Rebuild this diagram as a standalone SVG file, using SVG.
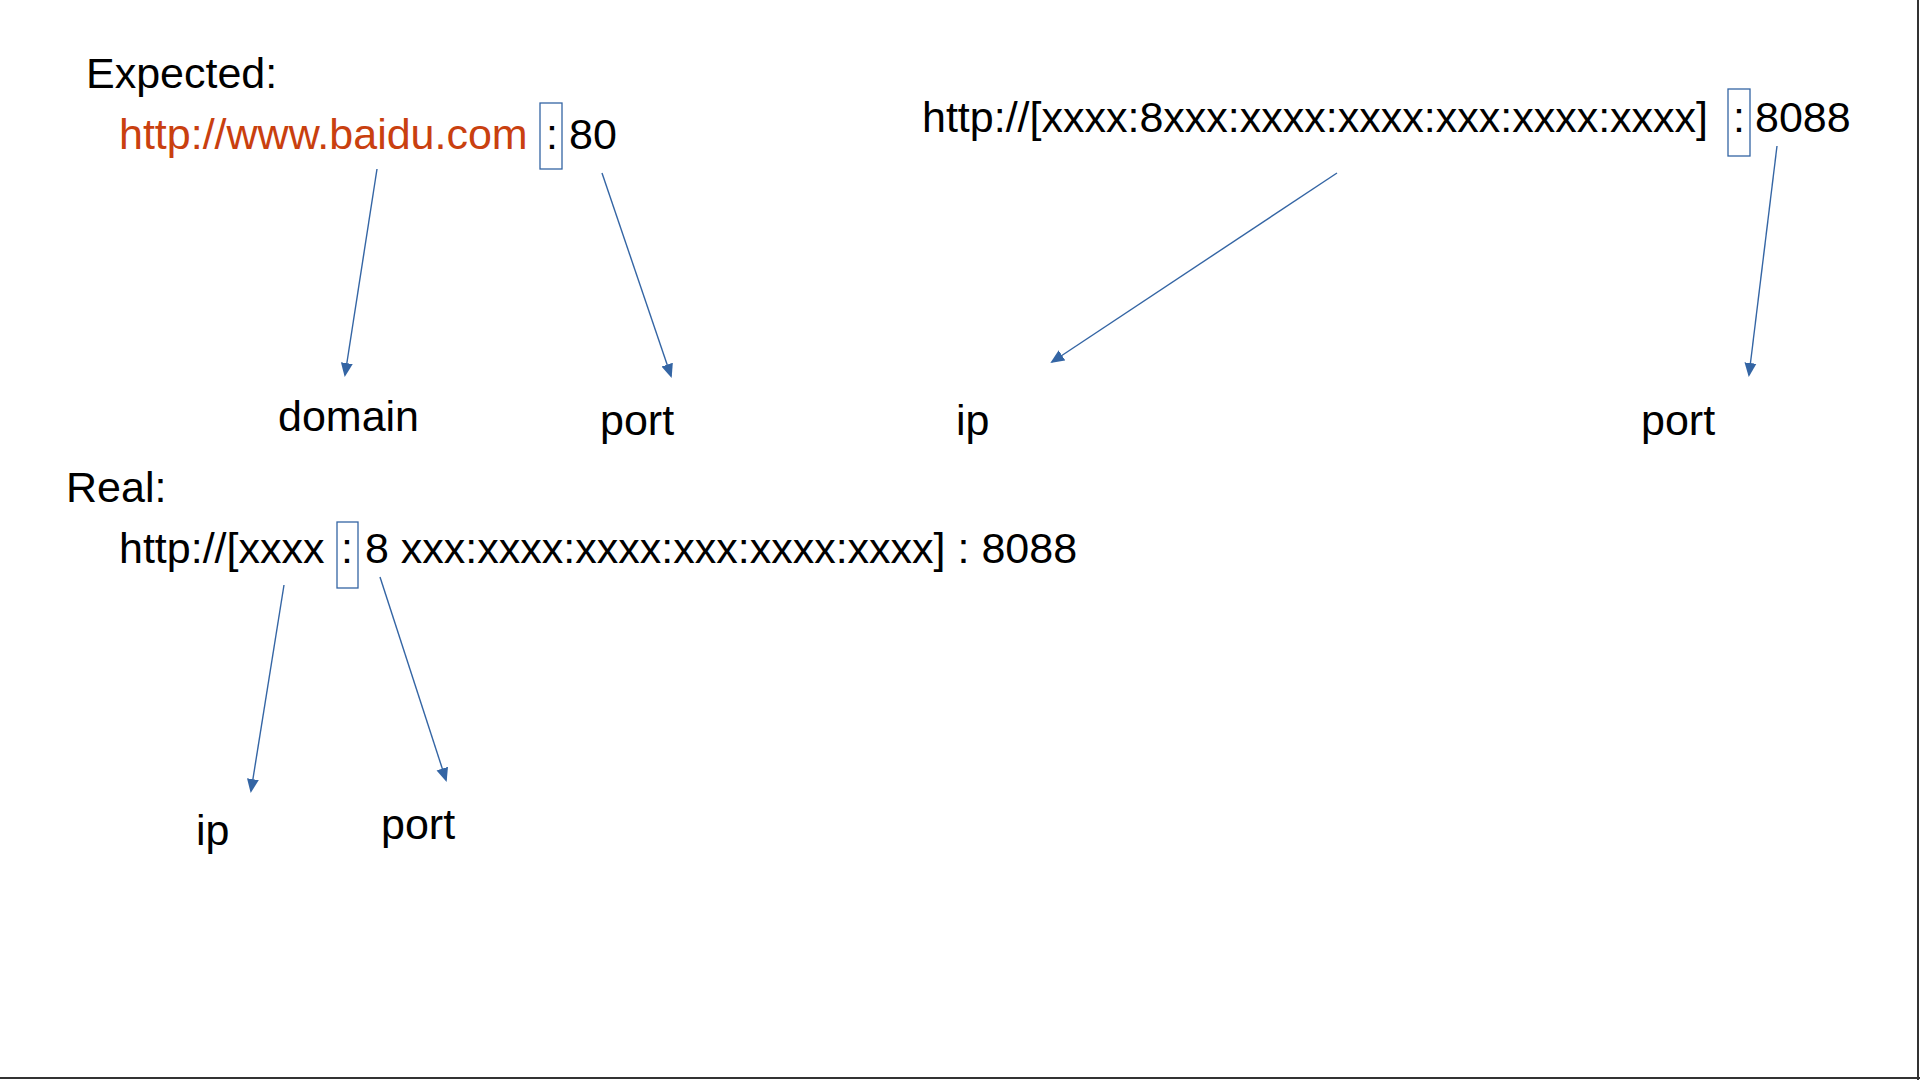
<svg xmlns="http://www.w3.org/2000/svg" width="1920" height="1080" viewBox="0 0 1920 1080">
<style>
text{font-family:"Liberation Sans",Arial,sans-serif;font-size:43px;fill:#000}
.red{fill:#c9400f}
.box{fill:none;stroke:#3465a4;stroke-width:1.3}
.c line{stroke:#3465a4;stroke-width:1.4;marker-end:url(#ah)}
</style>
<defs><marker id="ah" markerWidth="14" markerHeight="14" refX="12" refY="6" orient="auto" markerUnits="userSpaceOnUse" viewBox="0 0 14 12"><path d="M0,0 L14,6 L0,12 Z" fill="#3465a4"/></marker></defs>
<rect width="1920" height="1080" fill="#fff"/>
<line x1="1918" y1="0" x2="1918" y2="1080" stroke="#333" stroke-width="2"/>
<line x1="0" y1="1078" x2="1920" y2="1078" stroke="#333" stroke-width="2"/>
<g id="expected"><text x="86" y="88">Expected:</text></g>
<g id="url1"><text x="119" y="149" class="red">http://www.baidu.com</text><rect class="box" x="540" y="103" width="22" height="66"/><text x="546" y="149">:</text><text x="569" y="149">80</text></g>
<g id="url2"><text x="922" y="132">http://[xxxx:8xxx:xxxx:xxxx:xxx:xxxx:xxxx]</text><rect class="box" x="1728" y="89" width="22" height="67"/><text x="1733" y="132">:</text><text x="1755" y="132">8088</text></g>
<g id="domain"><text x="278" y="431">domain</text></g>
<g id="port1"><text x="600" y="435">port</text></g>
<g id="ip1"><text x="956" y="435">ip</text></g>
<g id="port2"><text x="1641" y="435">port</text></g>
<g id="real"><text x="66" y="502">Real:</text></g>
<g id="url3"><text x="119" y="563">http://[xxxx</text><rect class="box" x="337" y="522" width="21" height="66"/><text x="341" y="563">:</text><text x="365" y="563">8 xxx:xxxx:xxxx:xxx:xxxx:xxxx] : 8088</text></g>
<g id="ip2"><text x="196" y="845">ip</text></g>
<g id="port3"><text x="381" y="839">port</text></g>
<g class="c" id="connectors">
<line x1="377" y1="169" x2="345" y2="375"/>
<line x1="602" y1="173" x2="671" y2="376"/>
<line x1="1337" y1="173" x2="1052" y2="362"/>
<line x1="1777" y1="146" x2="1749" y2="375"/>
<line x1="284" y1="585" x2="251" y2="791"/>
<line x1="380" y1="577" x2="446" y2="780"/>
</g>
</svg>
